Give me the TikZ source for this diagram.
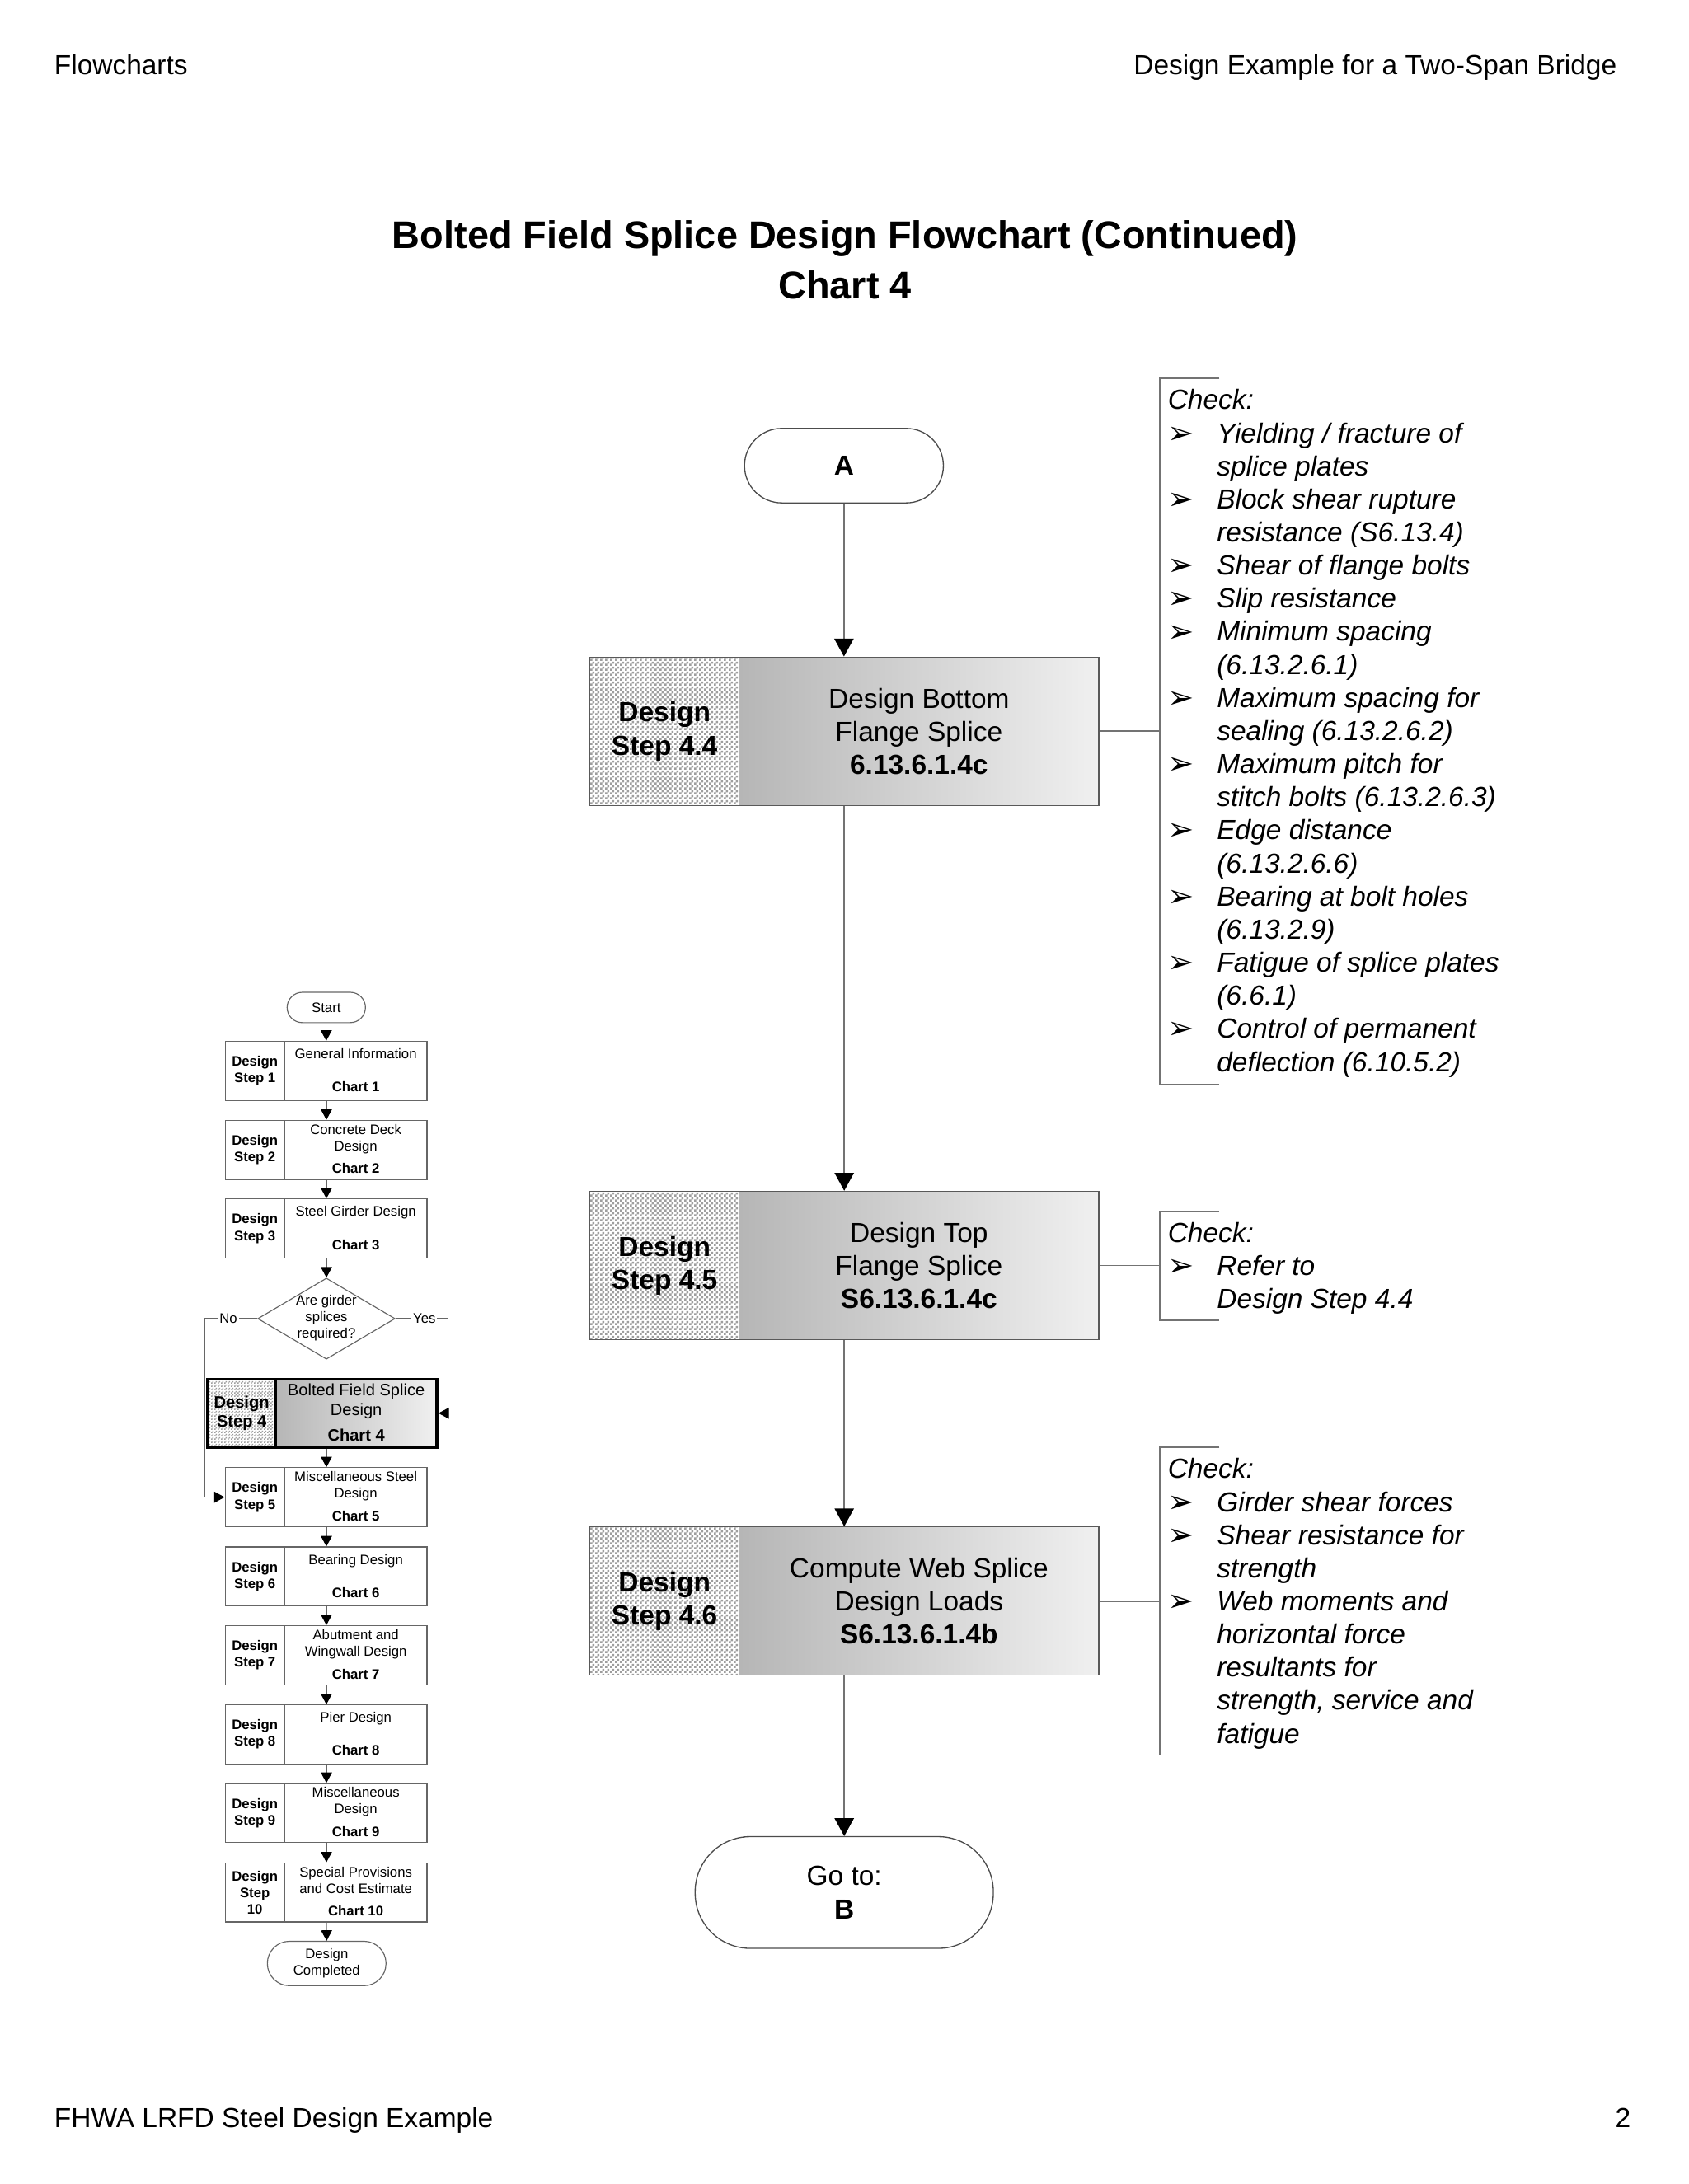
\documentclass[tikz,border=0pt]{standalone}
\usepackage{fontspec}
\setmainfont{Liberation Sans}
\newfontfamily\dejavu{DejaVu Sans}
\usetikzlibrary{arrows.meta,shapes.geometric,patterns}
\definecolor{gradL}{gray}{0.60}
\definecolor{lineg}{gray}{0.45}
\definecolor{chkg}{gray}{0.62}
\pgfdeclarehorizontalshading{boxgrad}{100bp}{color(0bp)=(gradL); color(88bp)=(white); color(100bp)=(white)}
\pgfdeclarepatternformonly{finechk}{\pgfpointorigin}{\pgfqpoint{1.8pt}{1.8pt}}{\pgfqpoint{1.8pt}{1.8pt}}{\pgfpathrectangle{\pgfpointorigin}{\pgfqpoint{0.9pt}{0.9pt}}\pgfpathrectangle{\pgfqpoint{0.9pt}{0.9pt}}{\pgfqpoint{0.9pt}{0.9pt}}\pgfusepath{fill}}
\pgfdeclarepatternformonly{minichk}{\pgfpointorigin}{\pgfqpoint{1.2pt}{1.2pt}}{\pgfqpoint{1.2pt}{1.2pt}}{\pgfpathrectangle{\pgfpointorigin}{\pgfqpoint{0.6pt}{0.6pt}}\pgfpathrectangle{\pgfqpoint{0.6pt}{0.6pt}}{\pgfqpoint{0.6pt}{0.6pt}}\pgfusepath{fill}}
\newcommand\bul{\makebox[17.8pt][l]{\upshape\dejavu\fontsize{11.5}{12}\selectfont\raisebox{-0.3pt}{➢}}}
\newcommand\ind{\hspace*{17.8pt}}
\tikzset{
 bigleft/.style={draw=black!65, line width=0.4pt, pattern=finechk, pattern color=chkg, minimum width=54pt, minimum height=53.8pt, inner sep=0pt, align=center, font=\bfseries\fontsize{10}{12}\selectfont},
 bigright/.style={draw=black!65, line width=0.4pt, shading=boxgrad, minimum width=130.4pt, minimum height=53.8pt, inner sep=0pt, align=center, font=\fontsize{10}{12}\selectfont},
 marr/.style={draw=lineg, line width=0.5pt, -{Triangle[width=7pt,length=6.5pt,color=black]}},
 conn/.style={draw=lineg, line width=0.5pt},
 brk/.style={draw=lineg, line width=0.5pt},
 chk/.style={anchor=base west, inner sep=0pt, font=\itshape\fontsize{10}{12}\selectfont},
 mleft/.style={draw=black!60, line width=0.35pt, minimum width=21.56pt, minimum height=21.4pt, inner sep=0pt, align=center, font=\bfseries\fontsize{5}{6}\selectfont},
 mright/.style={draw=black!60, line width=0.35pt, minimum width=51.6pt, minimum height=21.4pt, inner sep=0pt},
 mtxt/.style={inner sep=0pt, font=\fontsize{5}{6}\selectfont, text height=3.6pt, text depth=0pt},
 mchart/.style={mtxt, font=\bfseries\fontsize{5}{6}\selectfont},
 mtxtb/.style={inner sep=0pt, font=\fontsize{6}{7}\selectfont, text height=4.3pt, text depth=0pt},
 marrow/.style={draw=black!60, line width=0.35pt, -{Triangle[width=4pt,length=3.8pt,color=black]}},
 mlbl/.style={fill=white, inner sep=0.6pt, font=\fontsize{5}{6}\selectfont, pos=0.55},
 hdr/.style={inner sep=0pt, font=\fontsize{10}{12}\selectfont},
}
\newcommand{\minib}[6]{%
 \node[mleft] (#1l) at (182.95,#2) {#3};
 \node[mright] (#1r) at (255.4,#2) {};
 \if\relax\detokenize{#5}\relax
  \node[mtxt] (#1t) at (255.4,#2-12.3) {#4};
  \node[mchart] (#1c) at (255.4,#2+11.5) {#6};
 \else
  \node[mtxt] (#1t) at (255.4,#2-14.7) {#4};
  \node[mtxt] (#1u) at (255.4,#2-2.9) {#5};
  \node[mchart] (#1c) at (255.4,#2+13.5) {#6};
 \fi}
\begin{document}
\begin{tikzpicture}[x=0.505pt, y=-0.505pt]
\fill[white] (0,0) rectangle (1212,1568);
\useasboundingbox (0,0) rectangle (1212,1568);
% headers and footers
\node[hdr, anchor=base west] (hl) at (38.6,53.3) {Flowcharts};
\node[hdr, anchor=base east] (hr) at (1160.9,53.3) {Design Example for a Two-Span Bridge};
\node[hdr, anchor=base west] (fl) at (38.6,1527.6) {FHWA LRFD Steel Design Example};
\node[hdr, anchor=base east] (fr) at (1170.9,1527.6) {2};
% title
\node[anchor=base, inner sep=0pt, font=\bfseries\fontsize{14}{17}\selectfont] (title1) at (606.6,178.5) {Bolted Field Splice Design Flowchart (Continued)};
\node[anchor=base, inner sep=0pt, font=\bfseries\fontsize{14}{17}\selectfont] (title2) at (606.6,214.6) {Chart 4};
% main flow
\node[draw=black!70, line width=0.4pt, rounded corners=13.5pt, minimum width=72.1pt, minimum height=27pt, inner sep=0pt, font=\bfseries\fontsize{10}{12}\selectfont] (A) at (605.8,334.3) {A};
\node[bigleft] (s44) at (477,525) {Design\\Step 4.4};
\node[bigright] (t44) at (659.65,525) {Design Bottom\\Flange Splice\\\textbf{6.13.6.1.4c}};
\node[bigleft] (s45) at (477,908.55) {Design\\Step 4.5};
\node[bigright] (t45) at (659.65,908.55) {Design Top\\Flange Splice\\\textbf{S6.13.6.1.4c}};
\node[bigleft] (s46) at (477,1149.5) {Design\\Step 4.6};
\node[bigright] (t46) at (659.65,1149.5) {Compute Web Splice\\Design Loads\\\textbf{S6.13.6.1.4b}};
\node[draw=black!70, line width=0.4pt, rounded corners=20pt, minimum width=108.1pt, minimum height=40.5pt, inner sep=0pt, align=center, font=\fontsize{10}{12}\selectfont] (B) at (606,1358.7) {Go to:\\\textbf{B}};
\coordinate (cx) at (606,0);
\draw[marr] (A.south) -- (A.south |- t44.north);
\draw[marr] (cx |- t44.south) -- (cx |- t45.north);
\draw[marr] (cx |- t45.south) -- (cx |- t46.north);
\draw[marr] (cx |- t46.south) -- (B.north);
% check lists
\coordinate (c44) at (832.4,525);
\coordinate (c45) at (832.4,908.55);
\coordinate (c46) at (832.4,1149.5);
\draw[conn] (t44.east) -- (c44);
\draw[conn] (t45.east) -- (c45);
\draw[conn] (t46.east) -- (c46);
\draw[brk] (875.3,271.6) -- (832.4,271.6) -- (832.4,778.3) -- (875.3,778.3);
\draw[brk] (875.3,869.8) -- (832.4,869.8) -- (832.4,948) -- (875.3,948);
\draw[brk] (875.3,1039.2) -- (832.4,1039.2) -- (832.4,1260) -- (875.3,1260);
\node[chk] (chk1) at (837.9,294.0) {\begin{tabular}[t]{@{}l@{}}
Check:\\
\bul Yielding / fracture of\\
\ind splice plates\\
\bul Block shear rupture\\
\ind resistance (S6.13.4)\\
\bul Shear of flange bolts\\
\bul Slip resistance\\
\bul Minimum spacing\\
\ind (6.13.2.6.1)\\
\bul Maximum spacing for\\
\ind sealing (6.13.2.6.2)\\
\bul Maximum pitch for\\
\ind stitch bolts (6.13.2.6.3)\\
\bul Edge distance\\
\ind (6.13.2.6.6)\\
\bul Bearing at bolt holes\\
\ind (6.13.2.9)\\
\bul Fatigue of splice plates\\
\ind (6.6.1)\\
\bul Control of permanent\\
\ind deflection (6.10.5.2)
\end{tabular}};
\node[chk] (chk2) at (837.9,891.7) {\begin{tabular}[t]{@{}l@{}}
Check:\\
\bul Refer to\\
\ind Design Step 4.4
\end{tabular}};
\node[chk] (chk3) at (837.9,1061.4) {\begin{tabular}[t]{@{}l@{}}
Check:\\
\bul Girder shear forces\\
\bul Shear resistance for\\
\ind strength\\
\bul Web moments and\\
\ind horizontal force\\
\ind resultants for\\
\ind strength, service and\\
\ind fatigue
\end{tabular}};
% mini flowchart
\node[draw=black!60, line width=0.35pt, rounded corners=5.5pt, minimum width=28.4pt, minimum height=11pt, inner sep=0pt, font=\fontsize{5}{6}\selectfont] (start) at (234.2,723.3) {Start};
\minib{m1}{768.8}{Design\\Step 1}{General Information}{}{Chart 1}
\minib{m2}{825.5}{Design\\Step 2}{Concrete Deck}{Design}{Chart 2}
\minib{m3}{882.0}{Design\\Step 3}{Steel Girder Design}{}{Chart 3}
\node[diamond, draw=black!60, line width=0.35pt, minimum width=49.8pt, minimum height=29.4pt, inner sep=0pt] (dia) at (234.3,946.7) {};
\node[inner sep=0pt, align=center, font=\fontsize{5}{6}\selectfont] (diat) at (234.3,946.2) {Are girder\\splices\\required?};
\node[draw=black, line width=1.1pt, pattern=minichk, pattern color=chkg, minimum width=24.6pt, minimum height=24.7pt, inner sep=0pt, align=center, font=\bfseries\fontsize{6}{7.1}\selectfont] (m4l) at (173.45,1014.6) {Design\\Step 4};
\node[draw=black, line width=1.1pt, shading=boxgrad, minimum width=58.5pt, minimum height=24.7pt, inner sep=0pt] (m4r) at (255.7,1014.6) {};
\node[mtxtb] (m4t) at (255.7,998.0) {Bolted Field Splice};
\node[mtxtb] (m4u) at (255.7,1012.2) {Design};
\node[mtxtb, font=\bfseries\fontsize{6}{7}\selectfont] (m4c) at (255.7,1030.6) {Chart 4};
\minib{m5}{1074.9}{Design\\Step 5}{Miscellaneous Steel}{Design}{Chart 5}
\minib{m6}{1131.8}{Design\\Step 6}{Bearing Design}{}{Chart 6}
\minib{m7}{1188.3}{Design\\Step 7}{Abutment and}{Wingwall Design}{Chart 7}
\minib{m8}{1245.2}{Design\\Step 8}{Pier Design}{}{Chart 8}
\minib{m9}{1301.6}{Design\\Step 9}{Miscellaneous}{Design}{Chart 9}
\minib{m10}{1358.6}{Design\\Step\\10}{Special Provisions}{and Cost Estimate}{Chart 10}
\node[draw=black!60, line width=0.35pt, rounded corners=8pt, minimum width=43pt, minimum height=16.1pt, inner sep=0pt, align=center, font=\fontsize{5}{6}\selectfont] (done) at (234.5,1409.65) {Design\\Completed};
\coordinate (mx) at (234.3,0);
\coordinate (noc) at (146.9,946.7);
\coordinate (yesc) at (321.5,946.7);
\draw[marrow] (start.south) -- (start.south |- m1r.north);
\draw[marrow] (mx |- m1r.south) -- (mx |- m2r.north);
\draw[marrow] (mx |- m2r.south) -- (mx |- m3r.north);
\draw[marrow] (mx |- m3r.south) -- (dia.north);
\draw[marrow] (dia.west) -- node[mlbl]{No} (noc) |- (m5l.west);
\draw[marrow] (dia.east) -- node[mlbl]{Yes} (yesc) |- (m4r.east);
\draw[marrow] (mx |- m4r.south) -- (mx |- m5r.north);
\draw[marrow] (mx |- m5r.south) -- (mx |- m6r.north);
\draw[marrow] (mx |- m6r.south) -- (mx |- m7r.north);
\draw[marrow] (mx |- m7r.south) -- (mx |- m8r.north);
\draw[marrow] (mx |- m8r.south) -- (mx |- m9r.north);
\draw[marrow] (mx |- m9r.south) -- (mx |- m10r.north);
\draw[marrow] (mx |- m10r.south) -- (done.north);
\end{tikzpicture}
\end{document}
